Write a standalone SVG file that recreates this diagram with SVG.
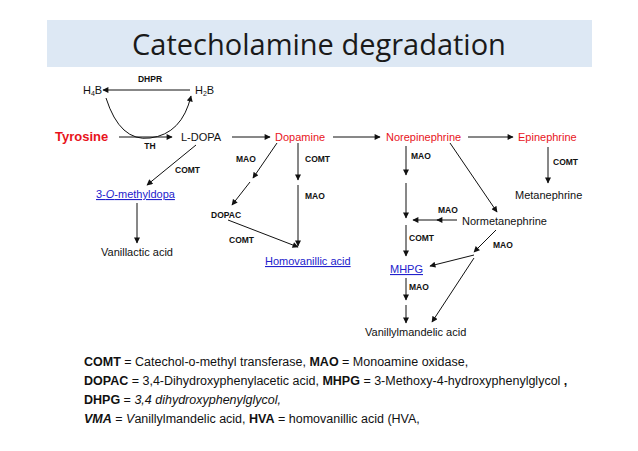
<svg xmlns="http://www.w3.org/2000/svg" width="638" height="451" viewBox="0 0 638 451">
<defs>
<marker id="ah" viewBox="0 0 10 10" refX="9" refY="5" markerWidth="7" markerHeight="6" orient="auto" markerUnits="userSpaceOnUse"><path d="M0,0L10,5L0,10z" fill="#111"/></marker>
<style>
text{font-family:"Liberation Sans",Arial,sans-serif;fill:#111}
.n{font-size:11px}
.r{fill:#e8141b}
.b{fill:#2222cc;text-decoration:underline}
.e{font-size:8.5px;font-weight:bold}
.c line,.c path{stroke:#111;stroke-width:1;fill:none;marker-end:url(#ah)}
.f{font-size:12.5px}
</style>
</defs>
<rect width="638" height="451" fill="#fff"/>
<rect x="47" y="20" width="545" height="47" fill="#dde8f4"/>
<text x="319" y="55" text-anchor="middle" style="font-family:'Open Sans',sans-serif;font-size:29px;fill:#1a1a1a">Catecholamine degradation</text>
<g class="c">
<line x1="190" y1="90" x2="103" y2="90"/>
<path d="M106,98 Q120,142 150,138 Q182,134 191,96"/>
<line x1="119" y1="137" x2="172" y2="137"/>
<line x1="232" y1="137" x2="270" y2="137"/>
<line x1="333" y1="137" x2="380" y2="137"/>
<line x1="468" y1="137" x2="513" y2="137"/>
<line x1="196" y1="145" x2="147" y2="185"/>
<line x1="137" y1="203" x2="137" y2="243"/>
<line x1="277" y1="143" x2="253" y2="178"/>
<line x1="250" y1="182" x2="232" y2="205"/>
<line x1="298" y1="143" x2="298" y2="180"/>
<line x1="298" y1="185" x2="298" y2="246"/>
<line x1="228" y1="220" x2="298" y2="247"/>
<line x1="406" y1="146" x2="406" y2="175"/>
<line x1="406" y1="183" x2="406" y2="218"/>
<line x1="457" y1="220" x2="437" y2="220"/>
<line x1="440" y1="220" x2="413" y2="220"/>
<line x1="450" y1="143" x2="497" y2="212"/>
<line x1="548" y1="147" x2="548" y2="183"/>
<line x1="406" y1="225" x2="406" y2="256"/>
<line x1="496" y1="230" x2="474" y2="252"/>
<line x1="474" y1="255" x2="430" y2="266"/>
<line x1="474" y1="258" x2="432" y2="322"/>
<line x1="406" y1="278" x2="406" y2="300"/>
<line x1="406" y1="305" x2="406" y2="323"/>
</g>
<g id="h4b"><text x="83" y="94" class="n">H<tspan font-size="7" dy="2">4</tspan><tspan dy="-2">B</tspan></text></g>
<g id="h2b"><text x="195" y="94" class="n">H<tspan font-size="7" dy="2">2</tspan><tspan dy="-2">B</tspan></text></g>
<text x="150" y="82" class="e" text-anchor="middle">DHPR</text>
<text x="150" y="149" class="e" text-anchor="middle">TH</text>
<g id="tyrosine"><text x="55" y="141" class="r" font-size="13" font-weight="bold" style="fill:#e8141b">Tyrosine</text></g>
<g id="ldopa"><text x="181" y="141" class="n">L-DOPA</text></g>
<g id="dopamine"><text x="275" y="141" class="n r">Dopamine</text></g>
<g id="norepinephrine"><text x="386" y="141" class="n r">Norepinephrine</text></g>
<g id="epinephrine"><text x="518" y="141" class="n r">Epinephrine</text></g>
<text x="175" y="173" class="e">COMT</text>
<g id="omd"><text x="96" y="198" class="n b">3-<tspan font-style="italic">O</tspan>-methyldopa</text></g>
<g id="vla"><text x="101" y="256" class="n">Vanillactic acid</text></g>
<text x="236" y="162" class="e">MAO</text>
<text x="305" y="162" class="e">COMT</text>
<text x="305" y="199" class="e">MAO</text>
<g id="dopac"><text x="211" y="218" class="e" font-size="9">DOPAC</text></g>
<text x="229" y="243" class="e">COMT</text>
<g id="hva"><text x="265" y="265" class="n b">Homovanillic acid</text></g>
<text x="411" y="159" class="e">MAO</text>
<text x="438" y="213" class="e">MAO</text>
<g id="normet"><text x="462" y="225" class="n">Normetanephrine</text></g>
<text x="553" y="165" class="e">COMT</text>
<g id="metaneph"><text x="515" y="199" class="n">Metanephrine</text></g>
<text x="409" y="241" class="e">COMT</text>
<text x="493" y="248" class="e">MAO</text>
<g id="mhpg"><text x="390" y="273" class="n b">MHPG</text></g>
<text x="409" y="290" class="e">MAO</text>
<g id="vma"><text x="365" y="336" class="n">Vanillylmandelic acid</text></g>
<g id="legend" class="f">
<text x="84" y="366" class="f"><tspan font-weight="bold">COMT</tspan> = Catechol-o-methyl transferase, <tspan font-weight="bold">MAO</tspan> = Monoamine oxidase,</text>
<text x="84" y="385" class="f"><tspan font-weight="bold">DOPAC</tspan> = 3,4-Dihydroxyphenylacetic acid,  <tspan font-weight="bold">MHPG</tspan> = 3-Methoxy-4-hydroxyphenylglycol <tspan font-weight="bold">,</tspan></text>
<text x="84" y="404" class="f"><tspan font-weight="bold">DHPG</tspan> = <tspan font-style="italic">3,4 dihydroxyphenylglycol,</tspan></text>
<text x="84" y="423" class="f"><tspan font-weight="bold" font-style="italic">VMA</tspan> = <tspan font-style="italic">V</tspan>anillylmandelic acid,  <tspan font-weight="bold">HVA</tspan> = homovanillic acid (HVA,</text>
</g>
</svg>
